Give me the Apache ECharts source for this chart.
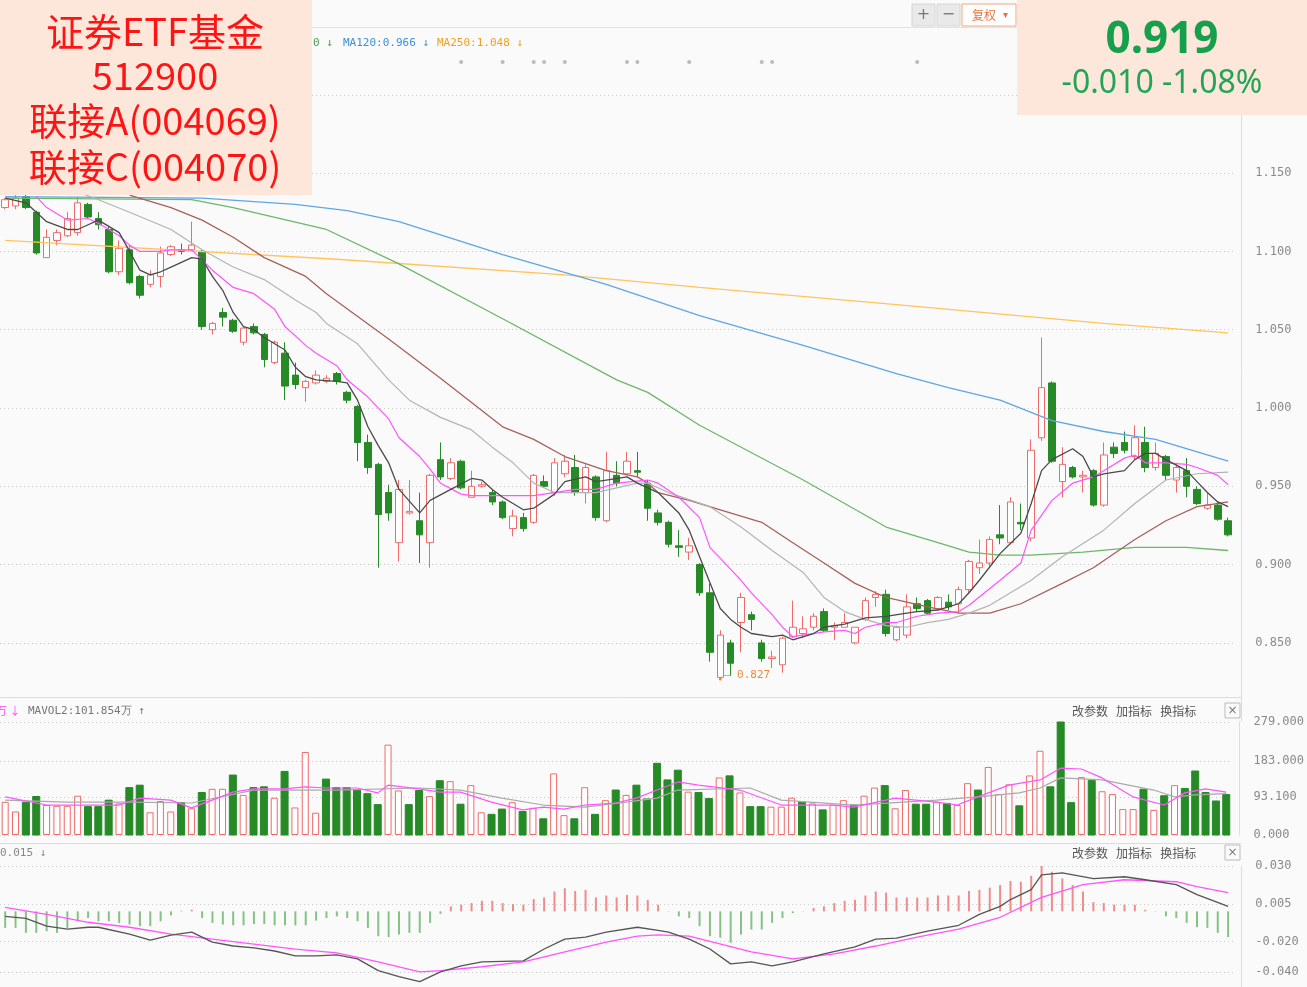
<!DOCTYPE html>
<html>
<head>
<meta charset="utf-8">
<script src="https://cdn.jsdelivr.net/npm/echarts@6/dist/echarts.min.js"></script>
<style>
    html, body { margin: 0; padding: 0; background: #fafafa; }
    #main { width: 1307px; height: 987px; }
</style>
</head>
<body>
<div id="main"></div>
<script>
    // 日K [开, 收, 低, 高]
    var kline = [
        [1.128, 1.133, 1.127, 1.134], [1.129, 1.134, 1.127, 1.136], [1.135, 1.128, 1.127, 1.136], [1.125, 1.099, 1.098, 1.126],
        [1.096, 1.109, 1.096, 1.114], [1.107, 1.112, 1.104, 1.114], [1.110, 1.121, 1.109, 1.125], [1.112, 1.131, 1.110, 1.135],
        [1.130, 1.122, 1.121, 1.131], [1.121, 1.117, 1.114, 1.125], [1.114, 1.087, 1.086, 1.116], [1.087, 1.102, 1.085, 1.107],
        [1.101, 1.080, 1.079, 1.104], [1.084, 1.072, 1.070, 1.085], [1.079, 1.085, 1.077, 1.088], [1.084, 1.099, 1.077, 1.103],
        [1.098, 1.103, 1.097, 1.104], [1.101, 1.100, 1.098, 1.105], [1.101, 1.104, 1.100, 1.119], [1.100, 1.052, 1.050, 1.101],
        [1.050, 1.054, 1.047, 1.055], [1.061, 1.058, 1.052, 1.064], [1.056, 1.049, 1.048, 1.057], [1.042, 1.051, 1.040, 1.052],
        [1.052, 1.048, 1.047, 1.054], [1.047, 1.031, 1.026, 1.048], [1.029, 1.042, 1.028, 1.043], [1.035, 1.014, 1.005, 1.042],
        [1.021, 1.015, 1.012, 1.029], [1.013, 1.017, 1.004, 1.018], [1.016, 1.021, 1.015, 1.024], [1.017, 1.019, 1.016, 1.021],
        [1.022, 1.017, 1.015, 1.023], [1.010, 1.005, 1.003, 1.011], [1.001, 0.978, 0.966, 1.002], [0.978, 0.962, 0.958, 0.983],
        [0.964, 0.932, 0.898, 0.965], [0.946, 0.933, 0.928, 0.951], [0.914, 0.948, 0.902, 0.954], [0.933, 0.934, 0.932, 0.954],
        [0.928, 0.919, 0.901, 0.946], [0.914, 0.957, 0.898, 0.958], [0.967, 0.956, 0.954, 0.978], [0.955, 0.965, 0.954, 0.968],
        [0.966, 0.949, 0.948, 0.967], [0.943, 0.950, 0.943, 0.960], [0.950, 0.951, 0.949, 0.953], [0.946, 0.940, 0.938, 0.948],
        [0.940, 0.930, 0.929, 0.941], [0.923, 0.931, 0.918, 0.935], [0.930, 0.923, 0.921, 0.933], [0.927, 0.957, 0.926, 0.958],
        [0.953, 0.950, 0.949, 0.957], [0.946, 0.965, 0.944, 0.968], [0.958, 0.966, 0.956, 0.970], [0.962, 0.946, 0.944, 0.970],
        [0.946, 0.962, 0.939, 0.964], [0.956, 0.930, 0.928, 0.957], [0.928, 0.960, 0.927, 0.972], [0.957, 0.952, 0.950, 0.966],
        [0.958, 0.966, 0.957, 0.972], [0.960, 0.959, 0.956, 0.972], [0.952, 0.936, 0.928, 0.954], [0.933, 0.927, 0.925, 0.935],
        [0.927, 0.913, 0.911, 0.928], [0.912, 0.911, 0.905, 0.922], [0.908, 0.912, 0.903, 0.917], [0.900, 0.882, 0.880, 0.901],
        [0.882, 0.844, 0.838, 0.888], [0.828, 0.855, 0.827, 0.858], [0.850, 0.837, 0.829, 0.852], [0.863, 0.879, 0.844, 0.882],
        [0.868, 0.865, 0.858, 0.870], [0.850, 0.840, 0.838, 0.852], [0.840, 0.841, 0.834, 0.845], [0.836, 0.853, 0.831, 0.854],
        [0.854, 0.860, 0.853, 0.877], [0.856, 0.859, 0.853, 0.867], [0.860, 0.867, 0.858, 0.869], [0.870, 0.858, 0.857, 0.872],
        [0.860, 0.861, 0.852, 0.863], [0.860, 0.863, 0.860, 0.869], [0.850, 0.860, 0.849, 0.860], [0.865, 0.877, 0.864, 0.879],
        [0.879, 0.881, 0.873, 0.883], [0.881, 0.856, 0.854, 0.884], [0.852, 0.860, 0.851, 0.861], [0.855, 0.873, 0.853, 0.881],
        [0.875, 0.872, 0.870, 0.879], [0.877, 0.869, 0.868, 0.878], [0.872, 0.879, 0.871, 0.880], [0.876, 0.873, 0.871, 0.881],
        [0.875, 0.884, 0.869, 0.886], [0.884, 0.902, 0.882, 0.903], [0.898, 0.901, 0.894, 0.916], [0.901, 0.916, 0.898, 0.918],
        [0.919, 0.917, 0.913, 0.938], [0.914, 0.940, 0.913, 0.943], [0.927, 0.926, 0.922, 0.939], [0.917, 0.973, 0.915, 0.980],
        [0.981, 1.013, 0.979, 1.045], [1.016, 0.966, 0.965, 1.017], [0.953, 0.964, 0.943, 0.975], [0.962, 0.956, 0.955, 0.963],
        [0.956, 0.957, 0.946, 0.960], [0.960, 0.938, 0.937, 0.961], [0.938, 0.970, 0.937, 0.978], [0.975, 0.971, 0.968, 0.978],
        [0.978, 0.973, 0.971, 0.985], [0.969, 0.981, 0.967, 0.989], [0.978, 0.962, 0.959, 0.988], [0.962, 0.971, 0.960, 0.978],
        [0.969, 0.957, 0.954, 0.970], [0.954, 0.962, 0.946, 0.965], [0.960, 0.950, 0.943, 0.968], [0.948, 0.939, 0.938, 0.950],
        [0.936, 0.938, 0.935, 0.946], [0.938, 0.929, 0.928, 0.940], [0.928, 0.919, 0.918, 0.930]
    ];

    // 成交量(万)
    var volume = [
        82, 58, 81, 95, 74, 72, 72, 97, 70, 70, 86, 78, 117, 123, 56, 84, 58, 80, 66, 105,
        114, 114, 148, 99, 117, 119, 92, 157, 68, 205, 55, 138, 117, 117, 112, 102, 75, 223, 110, 75,
        110, 96, 134, 133, 76, 123, 56, 51, 64, 81, 58, 67, 40, 152, 49, 40, 118, 51, 86, 111,
        99, 123, 89, 177, 136, 160, 107, 105, 90, 142, 146, 105, 70, 70, 70, 70, 92, 81, 78, 62,
        74, 86, 74, 97, 117, 122, 66, 111, 76, 76, 82, 78, 74, 128, 111, 168, 101, 125, 72, 147,
        208, 119, 279, 80, 143, 135, 108, 101, 64, 64, 113, 62, 97, 123, 115, 158, 105, 84, 100
    ];

    // 均线 [序号, 值]
    var ma5 = [[0, 1.134], [2, 1.131], [3, 1.125], [4, 1.119], [6, 1.114], [7, 1.114], [8, 1.117], [9, 1.120], [10, 1.116], [11, 1.112],
        [12, 1.100], [13, 1.088], [14, 1.085], [15, 1.087], [16, 1.090], [17, 1.093], [18, 1.096], [19, 1.095], [20, 1.084], [21, 1.075],
        [22, 1.061], [23, 1.052], [24, 1.050], [25, 1.045], [27, 1.037], [28, 1.026], [29, 1.020], [30, 1.018], [32, 1.017], [33, 1.016],
        [34, 1.005], [35, 0.988], [36, 0.976], [37, 0.965], [38, 0.948], [40, 0.933], [41, 0.941], [43, 0.948], [45, 0.955], [46, 0.954],
        [47, 0.948], [48, 0.943], [50, 0.935], [51, 0.936], [53, 0.945], [54, 0.953], [56, 0.956], [57, 0.953], [58, 0.954], [60, 0.956],
        [61, 0.952], [63, 0.946], [65, 0.933], [66, 0.922], [67, 0.905], [69, 0.872], [70, 0.865], [71, 0.860], [72, 0.856], [74, 0.854],
        [75, 0.855], [76, 0.852], [78, 0.856], [79, 0.860], [81, 0.862], [83, 0.866], [85, 0.867], [87, 0.869], [88, 0.870], [90, 0.871],
        [91, 0.873], [92, 0.875], [93, 0.882], [94, 0.890], [96, 0.907], [98, 0.920], [99, 0.939], [100, 0.960], [101, 0.967], [103, 0.974],
        [104, 0.969], [105, 0.956], [106, 0.958], [108, 0.960], [109, 0.967], [110, 0.971], [111, 0.971], [112, 0.967], [114, 0.960],
        [115, 0.953], [116, 0.946], [117, 0.940], [118, 0.937]];
    var ma10 = [[3, 1.135], [4, 1.128], [6, 1.120], [8, 1.121], [9, 1.118], [11, 1.110], [12, 1.104], [13, 1.100], [15, 1.100], [16, 1.101],
        [18, 1.101], [20, 1.088], [22, 1.077], [24, 1.073], [26, 1.063], [27, 1.052], [29, 1.040], [30, 1.035], [32, 1.027], [33, 1.018],
        [35, 1.007], [37, 0.993], [38, 0.981], [40, 0.969], [41, 0.961], [42, 0.952], [44, 0.945], [45, 0.944], [48, 0.944], [51, 0.944],
        [53, 0.946], [55, 0.948], [57, 0.948], [59, 0.952], [62, 0.954], [63, 0.952], [65, 0.943], [67, 0.930], [68, 0.911], [70, 0.897],
        [71, 0.890], [72, 0.882], [74, 0.868], [75, 0.860], [76, 0.854], [77, 0.855], [79, 0.857], [81, 0.858], [82, 0.856], [83, 0.860],
        [85, 0.863], [86, 0.863], [88, 0.867], [90, 0.869], [92, 0.870], [93, 0.874], [96, 0.890], [98, 0.901], [99, 0.922], [101, 0.941],
        [103, 0.952], [105, 0.956], [106, 0.960], [108, 0.968], [109, 0.970], [110, 0.965], [112, 0.965], [114, 0.964], [115, 0.962],
        [117, 0.957], [118, 0.951]];
    var ma20 = [[7, 1.138], [9, 1.133], [12, 1.125], [16, 1.114], [19, 1.101], [22, 1.090], [25, 1.082], [28, 1.069], [30, 1.061], [31, 1.054],
        [34, 1.041], [37, 1.018], [39, 1.005], [42, 0.994], [45, 0.986], [47, 0.975], [49, 0.965], [51, 0.952], [53, 0.946], [55, 0.946],
        [57, 0.946], [59, 0.949], [61, 0.952], [62, 0.952], [64, 0.946], [68, 0.937], [71, 0.924], [74, 0.909], [77, 0.895], [79, 0.879],
        [81, 0.870], [83, 0.865], [85, 0.861], [87, 0.860], [89, 0.863], [91, 0.865], [93, 0.869], [95, 0.874], [99, 0.890], [102, 0.905],
        [106, 0.922], [109, 0.939], [112, 0.954], [115, 0.958], [118, 0.959]];
    var ma30 = [[12, 1.136], [16, 1.128], [19, 1.120], [22, 1.109], [25, 1.096], [29, 1.084], [31, 1.073], [37, 1.044], [42, 1.019],
        [48, 0.988], [51, 0.980], [54, 0.969], [58, 0.960], [61, 0.956], [62, 0.952], [63, 0.946], [66, 0.941], [69, 0.935], [73, 0.927],
        [76, 0.914], [79, 0.901], [82, 0.888], [85, 0.879], [89, 0.873], [92, 0.869], [95, 0.869], [98, 0.875], [102, 0.888], [105, 0.898],
        [109, 0.916], [112, 0.928], [115, 0.937], [118, 0.940]];
    var ma60 = [[0, 1.134], [18, 1.133], [22, 1.128], [31, 1.114], [38, 1.092], [48, 1.057], [59, 1.018], [62, 1.010], [67, 0.989],
        [77, 0.954], [81, 0.939], [85, 0.924], [90, 0.914], [93, 0.908], [96, 0.906], [99, 0.906], [104, 0.908], [109, 0.911], [114, 0.911],
        [118, 0.909]];
    var ma120 = [[0, 1.135], [19, 1.134], [28, 1.130], [33, 1.126], [38, 1.119], [48, 1.098], [58, 1.079], [67, 1.059], [77, 1.040],
        [86, 1.022], [91, 1.013], [96, 1.005], [101, 0.992], [106, 0.985], [111, 0.980], [118, 0.966]];
    var ma250 = [[0, 1.107], [32, 1.095], [54, 1.085], [67, 1.077], [86, 1.066], [106, 1.054], [118, 1.048]];

    // 量均线
    var mavol1 = [[0, 94], [4, 74], [8, 74], [11, 74], [13, 91], [16, 86], [18, 67], [20, 86], [22, 106], [24, 114], [27, 114], [29, 119],
        [31, 116], [34, 116], [36, 104], [37, 123], [40, 114], [42, 106], [44, 106], [47, 81], [50, 62], [52, 69], [54, 64], [56, 74],
        [59, 79], [61, 91], [63, 111], [65, 131], [67, 123], [71, 111], [75, 74], [80, 74], [82, 69], [86, 91], [90, 81], [92, 74], [94, 94],
        [97, 123], [100, 136], [102, 165], [104, 163], [106, 141], [109, 94], [112, 74], [114, 104], [116, 114], [118, 106]];
    var mavol2 = [[0, 86], [6, 81], [12, 81], [18, 79], [24, 111], [32, 111], [40, 116], [44, 111], [48, 91], [52, 74], [56, 69], [60, 81],
        [63, 91], [65, 111], [72, 116], [75, 86], [82, 74], [90, 86], [94, 94], [98, 104], [100, 116], [102, 141], [106, 136], [111, 111],
        [113, 94], [115, 99], [118, 102]];

    // MACD
    var macdHist = [
        -0.0109, -0.0109, -0.0142, -0.0142, -0.0131, -0.0142, -0.0109, -0.0065, -0.0044, -0.0065,
        -0.0065, -0.0076, -0.0087, -0.0098, -0.0098, -0.0065, -0.0026, 0.0004, 0.0011, -0.0044,
        -0.0076, -0.0087, -0.0092, -0.0092, -0.0083, -0.0083, -0.0092, -0.0092, -0.0092, -0.0092,
        -0.0061, -0.0044, -0.0033, -0.0044, -0.0065, -0.0109, -0.0164, -0.0170, -0.0153, -0.0142,
        -0.0142, -0.0076, -0.0017, 0.0033, 0.0044, 0.0055, 0.0070, 0.0070, 0.0055, 0.0048,
        0.0044, 0.0081, 0.0092, 0.0131, 0.0153, 0.0135, 0.0142, 0.0092, 0.0105, 0.0092,
        0.0109, 0.0105, 0.0076, 0.0044, 0.0002, -0.0033, -0.0044, -0.0098, -0.0164, -0.0174,
        -0.0207, -0.0153, -0.0120, -0.0120, -0.0076, -0.0044, -0.0011, 0.0002, 0.0022, 0.0033,
        0.0055, 0.0070, 0.0076, 0.0105, 0.0131, 0.0124, 0.0092, 0.0092, 0.0092, 0.0092,
        0.0105, 0.0105, 0.0105, 0.0135, 0.0142, 0.0157, 0.0174, 0.0201, 0.0196, 0.0235,
        0.0305, 0.0262, 0.0218, 0.0174, 0.0131, 0.0061, 0.0055, 0.0044, 0.0044, 0.0044,
        0.0011, -0.0002, -0.0033, -0.0044, -0.0076, -0.0105, -0.0109, -0.0142, -0.0170
    ];
    var dif = [[0, -0.0033], [2, -0.0046], [4, -0.0098], [6, -0.0118], [8, -0.0105], [9, -0.0105], [12, -0.0150], [14, -0.0190],
        [16, -0.0157], [18, -0.0137], [20, -0.0203], [22, -0.0229], [24, -0.0242], [26, -0.0262], [28, -0.0294], [30, -0.0294],
        [32, -0.0288], [34, -0.0314], [36, -0.0392], [38, -0.0432], [40, -0.0464], [42, -0.0400], [44, -0.0360], [46, -0.0334],
        [50, -0.0327], [52, -0.0249], [54, -0.0183], [56, -0.0170], [58, -0.0137], [61, -0.0105], [63, -0.0125], [64, -0.0137],
        [66, -0.0183], [68, -0.0249], [70, -0.0347], [72, -0.0334], [74, -0.0360], [76, -0.0334], [79, -0.0281], [82, -0.0235],
        [84, -0.0183], [86, -0.0177], [89, -0.0131], [92, -0.0092], [94, -0.0020], [96, 0.0033], [97, 0.0078], [99, 0.0144],
        [100, 0.0242], [102, 0.0255], [105, 0.0216], [108, 0.0229], [110, 0.0209], [113, 0.0177], [115, 0.0111], [118, 0.0033]];
    var dea = [[0, 0.0026], [4, -0.0020], [8, -0.0072], [12, -0.0105], [16, -0.0150], [20, -0.0183], [24, -0.0216], [28, -0.0249],
        [32, -0.0275], [36, -0.0334], [40, -0.0400], [42, -0.0392], [46, -0.0366], [50, -0.0334], [54, -0.0268], [58, -0.0203],
        [61, -0.0164], [63, -0.0155], [66, -0.0164], [72, -0.0268], [76, -0.0314], [80, -0.0281], [84, -0.0229], [88, -0.0170],
        [92, -0.0118], [96, -0.0039], [100, 0.0092], [104, 0.0177], [108, 0.0209], [113, 0.0196], [115, 0.0164], [118, 0.0124]];

    // 右侧刻度
    var priceTicks = [0.85, 0.90, 0.95, 1.00, 1.05, 1.10, 1.15, 1.20];
    var volTicks = [0, 93.1, 183, 279];
    var macdTicks = [-0.04, -0.02, 0.005, 0.03];

    // 顶部事件标记
    var eventIdx = [44, 48, 51, 52, 54, 60, 61, 66, 73, 74, 88];
</script>
<script>
    var chart = echarts.init(document.getElementById('main'));

    var UP = '#f06a6a', DOWN = '#268a26';
    var days = kline.map(function (d, i) { return String(i + 1); });
    var gridLeft = -1.9, gridWidth = 1235.2;

    var volData = volume.map(function (v, i) {
        var prev = i > 0 ? kline[i - 1][1] : kline[i][0];
        var up = kline[i][1] >= prev;
        return {
            value: v,
            itemStyle: up ? {color: '#ffffff', borderColor: UP, borderWidth: 1} : {color: DOWN, borderColor: DOWN}
        };
    });
    var histData = macdHist.map(function (v) {
        return {value: v, itemStyle: {color: v >= 0 ? '#f08c8c' : '#86c286'}};
    });

    function line(data, color, xi, w) {
        return {
            type: 'line', data: data, xAxisIndex: xi, yAxisIndex: xi, symbol: 'none', silent: true,
            connectNulls: true, lineStyle: {color: color, width: w || 1.2}, z: 3
        };
    }

    var lab = {color: '#8a8a8a', fontSize: 12, fontFamily: 'DejaVu Sans Mono', margin: 14};
    var dotted = {type: [1, 3], color: '#cccccc', width: 1};

    function xAx(gi) {
        return {
            type: 'category', gridIndex: gi, data: days, boundaryGap: true,
            axisLine: {show: false}, axisTick: {show: false}, axisLabel: {show: false}, splitLine: {show: false}
        };
    }

    var option = {
        animation: false,
        backgroundColor: '#fafafa',
        grid: [
            {left: gridLeft, width: gridWidth, top: 16.5, height: 704.7},
            {left: gridLeft, width: gridWidth, top: 722, height: 113},
            {left: gridLeft, width: gridWidth, top: 866, height: 124}
        ],
        xAxis: [xAx(0), xAx(1), xAx(2)],
        yAxis: [
            {
                gridIndex: 0, position: 'right', offset: 8, min: 0.80, max: 1.25, interval: 0.05,
                axisLine: {show: true, lineStyle: {color: '#dddddd'}}, axisTick: {show: false},
                axisLabel: Object.assign({}, lab, {
                    formatter: function (v) {
                        return priceTicks.some(function (t) { return Math.abs(t - v) < 1e-6; }) ? v.toFixed(3) : '';
                    }
                }),
                splitLine: {
                    show: true,
                    lineStyle: {type: [1, 3], width: 1, color: ['rgba(0,0,0,0)', '#cccccc', '#cccccc', '#cccccc', '#cccccc',
                        '#cccccc', '#cccccc', '#cccccc', '#cccccc', 'rgba(0,0,0,0)']}
                }
            },
            {
                gridIndex: 1, position: 'right', offset: 8, min: 0, max: 279,
                axisLine: {show: true, lineStyle: {color: '#dddddd'}},
                axisTick: {show: false, customValues: volTicks},
                axisLabel: Object.assign({}, lab, {customValues: volTicks, formatter: function (v) { return v.toFixed(3); }}),
                splitLine: {show: true, lineStyle: dotted}
            },
            {
                gridIndex: 2, position: 'right', offset: 8, min: -0.05, max: 0.03,
                axisLine: {show: true, lineStyle: {color: '#dddddd'}},
                axisTick: {show: false, customValues: macdTicks},
                axisLabel: Object.assign({}, lab, {customValues: macdTicks, formatter: function (v) { return v.toFixed(3); }}),
                splitLine: {show: true, lineStyle: dotted}
            }
        ],
        series: [
            line(ma250, '#ffc45c', 0, 1.3),
            line(ma120, '#5ea6e6', 0, 1.3),
            line(ma60, '#6ab86a', 0, 1.3),
            line(ma30, '#a8605a', 0, 1.3),
            line(ma20, '#b4b4b4', 0, 1.2),
            line(ma10, '#ff55ff', 0, 1.2),
            {
                type: 'candlestick', data: kline, xAxisIndex: 0, yAxisIndex: 0, barWidth: 7, z: 2,
                itemStyle: {color: '#ffffff', color0: DOWN, borderColor: UP, borderColor0: DOWN, borderWidth: 1},
                markPoint: {
                    symbol: 'circle', symbolSize: 3,
                    itemStyle: {color: '#f08a3a'},
                    label: {show: true, position: 'right', distance: 2, color: '#f08a3a', fontSize: 11,
                        fontFamily: 'DejaVu Sans Mono', formatter: '— 0.827', offset: [0, -4]},
                    data: [{coord: [69, 0.827], value: 0.827}]
                }
            },
            line(ma5, '#4a4a4a', 0, 1.3),
            {
                type: 'scatter', xAxisIndex: 0, yAxisIndex: 0, symbol: 'circle', symbolSize: 4, silent: true,
                itemStyle: {color: '#aaaaaa'},
                data: eventIdx.map(function (i) { return [i, 1.221]; })
            },
            {type: 'bar', data: volData, xAxisIndex: 1, yAxisIndex: 1, barWidth: 7},
            line(mavol2, '#aaaaaa', 1, 1.2),
            line(mavol1, '#ff55ff', 1, 1.2),
            {type: 'bar', data: histData, xAxisIndex: 2, yAxisIndex: 2, barWidth: 2},
            line(dea, '#ff55ff', 2, 1.3),
            line(dif, '#555555', 2, 1.3)
        ],
        graphic: {
            elements: [
                // 顶部工具条
                {type: 'line', shape: {x1: 0, y1: 27.5, x2: 1307, y2: 27.5}, style: {stroke: '#e2e2e2'}, z: 50},
                {type: 'line', shape: {x1: 0, y1: 697.5, x2: 1241, y2: 697.5}, style: {stroke: '#dcdcdc'}, z: 50},
                {type: 'line', shape: {x1: 0, y1: 843.5, x2: 1241, y2: 843.5}, style: {stroke: '#dcdcdc'}, z: 50},
                {type: 'rect', shape: {x: 912, y: 4, width: 23, height: 22}, style: {fill: '#e9e9e9', stroke: '#d6d6d6'}, z: 50},
                {type: 'text', style: {text: '+', x: 923.5, y: 15, fill: '#777', font: '16px "DejaVu Sans"', textAlign: 'center', textVerticalAlign: 'middle'}, z: 51},
                {type: 'rect', shape: {x: 937, y: 4, width: 23, height: 22}, style: {fill: '#e9e9e9', stroke: '#d6d6d6'}, z: 50},
                {type: 'text', style: {text: '−', x: 948.5, y: 15, fill: '#777', font: '16px "DejaVu Sans"', textAlign: 'center', textVerticalAlign: 'middle'}, z: 51},
                {type: 'rect', shape: {x: 962, y: 4, width: 54, height: 22}, style: {fill: '#ffffff', stroke: '#f3a77c'}, z: 50},
                {type: 'text', style: {text: '复权', x: 972, y: 15, fill: '#e8743b', font: '12px "Noto Sans CJK SC"', textVerticalAlign: 'middle'}, z: 51},
                {type: 'text', style: {text: '▾', x: 1003, y: 15, fill: '#e8743b', font: '10px "DejaVu Sans"', textVerticalAlign: 'middle'}, z: 51},

                // 均线图例（左侧被遮挡）
                {type: 'text', style: {text: '0 ↓', x: 313, y: 43, fill: '#4aa04a', font: '11px "DejaVu Sans Mono"', textVerticalAlign: 'middle'}, z: 50},
                {type: 'text', style: {text: 'MA120:0.966 ↓', x: 343, y: 43, fill: '#3d8fd8', font: '11px "DejaVu Sans Mono"', textVerticalAlign: 'middle'}, z: 50},
                {type: 'text', style: {text: 'MA250:1.048 ↓', x: 437, y: 43, fill: '#f0a020', font: '11px "DejaVu Sans Mono"', textVerticalAlign: 'middle'}, z: 50},

                // 成交量标题
                {type: 'text', style: {text: '万 ↓', x: -4, y: 711, fill: '#ff44ff', font: '11px "Noto Sans CJK SC"', textVerticalAlign: 'middle'}, z: 50},
                {type: 'text', style: {text: 'MAVOL2:101.854万 ↑', x: 28, y: 711, fill: '#777', font: '11px "DejaVu Sans Mono"', textVerticalAlign: 'middle'}, z: 50},
                {type: 'text', style: {text: '改参数   加指标   换指标', x: 1072, y: 711, fill: '#555', font: '12px "Noto Sans CJK SC"', textVerticalAlign: 'middle'}, z: 50},
                {type: 'rect', shape: {x: 1225, y: 703, width: 15, height: 15}, style: {fill: '#fafafa', stroke: '#bbbbbb'}, z: 50},
                {type: 'text', style: {text: '×', x: 1232.5, y: 711, fill: '#777', font: '12px "DejaVu Sans"', textAlign: 'center', textVerticalAlign: 'middle'}, z: 51},

                // MACD 标题
                {type: 'text', style: {text: '0.015 ↓', x: 0, y: 853, fill: '#888', font: '11px "DejaVu Sans Mono"', textVerticalAlign: 'middle'}, z: 50},
                {type: 'text', style: {text: '改参数   加指标   换指标', x: 1072, y: 853, fill: '#555', font: '12px "Noto Sans CJK SC"', textVerticalAlign: 'middle'}, z: 50},
                {type: 'rect', shape: {x: 1225, y: 845, width: 15, height: 15}, style: {fill: '#fafafa', stroke: '#bbbbbb'}, z: 50},
                {type: 'text', style: {text: '×', x: 1232.5, y: 853, fill: '#777', font: '12px "DejaVu Sans"', textAlign: 'center', textVerticalAlign: 'middle'}, z: 51},

                // 左上角标题框
                {type: 'rect', shape: {x: 0, y: 0, width: 312, height: 195}, style: {fill: '#fce7da'}, z: 100},
                {type: 'text', style: {text: '证券ETF基金', x: 155, y: 32, fill: '#ff1414', font: '38px "Noto Sans CJK SC"', textAlign: 'center', textVerticalAlign: 'middle'}, z: 101},
                {type: 'text', style: {text: '512900', x: 155, y: 76, fill: '#ff1414', font: '38px "Noto Sans CJK SC"', textAlign: 'center', textVerticalAlign: 'middle'}, z: 101},
                {type: 'text', style: {text: '联接A(004069)', x: 155, y: 121, fill: '#ff1414', font: '38px "Noto Sans CJK SC"', textAlign: 'center', textVerticalAlign: 'middle'}, z: 101},
                {type: 'text', style: {text: '联接C(004070)', x: 155, y: 167, fill: '#ff1414', font: '38px "Noto Sans CJK SC"', textAlign: 'center', textVerticalAlign: 'middle'}, z: 101},

                // 右上角价格框
                {type: 'rect', shape: {x: 1017, y: 0, width: 290, height: 115}, style: {fill: '#fce7da'}, z: 100},
                {type: 'text', style: {text: '0.919', x: 1162, y: 40, fill: '#16a04c', font: 'bold 44px "Noto Sans"', textAlign: 'center', textVerticalAlign: 'middle'}, z: 101},
                {type: 'text', style: {text: '-0.010 -1.08%', x: 1162, y: 84, fill: '#22a556', font: '32px "Noto Sans"', textAlign: 'center', textVerticalAlign: 'middle'}, z: 101}
            ]
        }
    };

    chart.setOption(option);
</script>
</body>
</html>
